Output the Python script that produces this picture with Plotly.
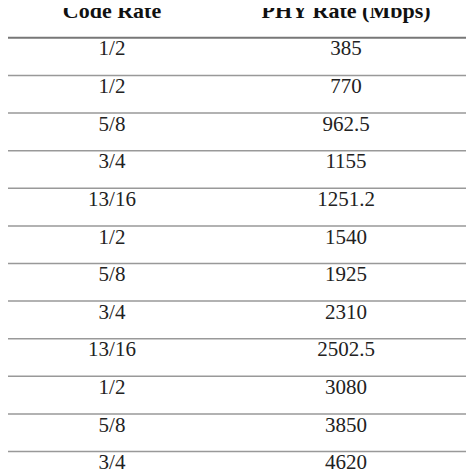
import plotly.graph_objects as go

code_rates = ["1/2", "1/2", "5/8", "3/4", "13/16", "1/2", "5/8", "3/4", "13/16", "1/2", "5/8", "3/4"]
phy_rates = ["385", "770", "962.5", "1155", "1251.2", "1540", "1925", "2310", "2502.5", "3080", "3850", "4620"]
headers = ["Code Rate", "PHY Rate (Mbps)"]

col_x = [104, 338]
font = "Liberation Serif, DejaVu Serif, serif"
text_shift = 0.17  # plotly draws text a bit low; nudge it up to sit centered in each row
rows = list(range(1, len(code_rates) + 1))
text_y = [r - text_shift for r in rows]

fig = go.Figure()
fig.add_trace(go.Scatter(x=[col_x[0]] * len(rows), y=text_y, text=code_rates, mode="text",
                         textfont=dict(family=font, size=21, color="#222")))
fig.add_trace(go.Scatter(x=[col_x[1]] * len(rows), y=text_y, text=phy_rates, mode="text",
                         textfont=dict(family=font, size=21, color="#222")))
fig.add_trace(go.Scatter(x=col_x, y=[-text_shift] * 2, text=["<b>%s</b>" % h for h in headers], mode="text",
                         textfont=dict(family=font, size=22, color="#111")))

for i in range(len(rows)):
    fig.add_shape(type="line", xref="paper", x0=0, x1=1, y0=i + 0.5, y1=i + 0.5,
                  line=dict(color="#777" if i == 0 else "#999", width=2 if i == 0 else 1.5))

fig.update_layout(
    width=474, height=474, margin=dict(l=0, r=0, t=0, b=0),
    plot_bgcolor="white", paper_bgcolor="white", showlegend=False,
    xaxis=dict(range=[0, 474], visible=False),
    yaxis=dict(range=[12.31, -0.293], visible=False),
)

fig.write_html("out.html")
